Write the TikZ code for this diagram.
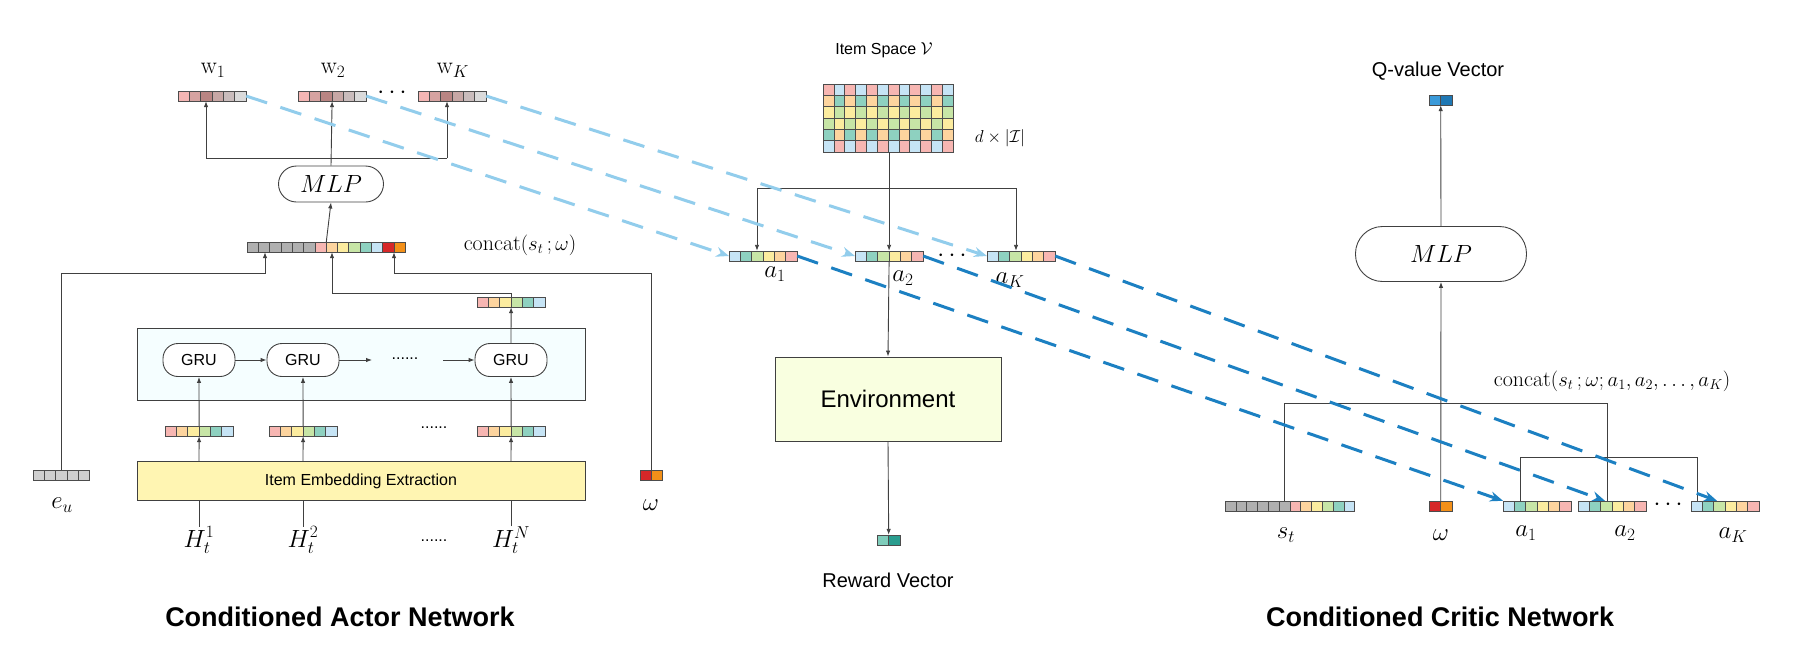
\documentclass[tikz,border=0pt]{standalone}
\usepackage{fontspec}
\newfontfamily\sansf{Liberation Sans}
\usetikzlibrary{arrows.meta,calc}
\definecolor{pk}{HTML}{F7B6B2}\definecolor{orl}{HTML}{FDD49E}\definecolor{ye}{HTML}{FCEC9F}
\definecolor{gr}{HTML}{C7E5A6}\definecolor{te}{HTML}{8ED1C0}\definecolor{bl}{HTML}{C6E4F5}
\definecolor{gy}{HTML}{B0B0B0}\definecolor{lgy}{HTML}{CFCFCF}\definecolor{rd}{HTML}{D62728}\definecolor{og}{HTML}{F39019}
\definecolor{wa}{HTML}{F4B6B4}\definecolor{wb}{HTML}{D6A3A1}\definecolor{wc}{HTML}{B98583}\definecolor{wd}{HTML}{C7A7A5}\definecolor{we}{HTML}{C9BCBC}\definecolor{wf}{HTML}{DADADA}
\definecolor{qa}{HTML}{3A9AD9}\definecolor{qb}{HTML}{1F78B4}\definecolor{ra}{HTML}{7FCDBB}\definecolor{rb}{HTML}{2A9D8F}
\definecolor{lblue}{HTML}{92CDEC}\definecolor{dblue}{HTML}{1C80C2}
\newcommand\cellvec[5]{%
  \foreach \c [count=\i] in {#5} {\fill[\c, draw=black!70, line width=0.6] ({#2+(\i-1)*#4}, #3-5) rectangle ++(#4,10); \xdef\ncells{\i}}
  \node[inner sep=0, minimum width={\ncells*#4pt}, minimum height=10pt, anchor=west] (#1) at (#2,#3) {};}
\begin{document}
\begin{tikzpicture}[x=1pt,y=-1pt,
  line/.style={draw=black!75, line width=0.9},
  arr/.style={line, -{Latex[length=6,width=4.5]}},
  lbd/.style={lblue, line width=3, dash pattern=on 22pt off 14pt, -{Stealth[length=13,width=10]}},
  dbd/.style={dblue, line width=3, dash pattern=on 22pt off 14pt, -{Stealth[length=13,width=10]}},
  lab/.style={font=\fontsize{24}{26}\selectfont, inner sep=0},
  sans/.style={font=\sansf\fontsize{#1}{#1}\selectfont, inner sep=0},
  gru/.style={draw=black!75, line width=0.9, fill=white, rounded corners=15, minimum width=72, minimum height=33, font=\sansf\fontsize{16}{16}\selectfont},
  title/.style={font=\sansf\bfseries\fontsize{27}{27}\selectfont}]
\useasboundingbox (0,0) rectangle (1815,651);
% ---------- Actor ----------
\cellvec{w1}{178}{96}{11.3}{wa,wb,wc,wd,we,wf}
\cellvec{w2}{298}{96}{11.3}{wa,wb,wc,wd,we,wf}
\cellvec{wK}{418}{96}{11.3}{wa,wb,wc,wd,we,wf}
\node[lab] (lw1) at (213,70) {$\mathrm{w}_1$};
\node[lab] (lw2) at (333,70) {$\mathrm{w}_2$};
\node[lab] (lwK) at (453,70) {$\mathrm{w}_K$};
\node[lab] (dw) at (392,93) {$\cdots$};
\node[draw=black!75, line width=0.9, rounded corners=18, minimum width=105, minimum height=36, font=\fontsize{24}{24}\selectfont] (mlp) at (331,184) {$MLP$};
\coordinate (m1) at (206,158); \coordinate (m3) at (447,158);
\draw[line] (m1) -- (m3);
\draw[arr] (m1) -- (m1|-w1.south);
\draw[arr] (m3) -- (m3|-wK.south);
\draw[arr] (mlp.north) -- (w2.south);
\cellvec{cs}{247}{247}{11.3}{gy,gy,gy,gy,gy,gy,pk,orl,ye,gr,te,bl,rd,og}
\node[font=\fontsize{22}{22}\selectfont, inner sep=0] (csl) at (520,245) {$\mathrm{concat}(s_t\,;\omega)$};
\draw[arr] (cs.north) -- (mlp.south);
\node[draw=black!75, line width=0.9, fill=blue!5!cyan!4, minimum width=448, minimum height=72, inner sep=0] (grubox) at (361,364) {};
\node[gru] (g1) at (199,360) {GRU};
\node[gru] (g2) at (303,360) {GRU};
\node[gru] (g3) at (511,360) {GRU};
\node[sans=16] (gd) at (405,359) {......};
\coordinate (ga) at (372,360); \coordinate (gb) at (443,360);
\draw[arr] (g1.east) -- (g2.west);
\draw[arr] (g2.east) -- (ga);
\draw[arr] (gb) -- (g3.west);
\cellvec{hv}{477}{302}{11.3}{pk,orl,ye,gr,te,bl}
\draw[arr] (g3.north) -- (hv.south);
\coordinate (b3) at (332,293);
\draw[arr] (hv.north) |- (b3) -- (b3|-cs.south);
\node[draw=black!75, line width=0.9, fill=orange!25!yellow!30, minimum width=448, minimum height=39, sans=16] (iee) at (361,481) {Item Embedding Extraction};
\cellvec{e1}{165}{431}{11.3}{pk,orl,ye,gr,te,bl}
\cellvec{e2}{269}{431}{11.3}{pk,orl,ye,gr,te,bl}
\cellvec{eN}{477}{431}{11.3}{pk,orl,ye,gr,te,bl}
\node[sans=16] (ed) at (434,428) {......};
\node[lab] (h1) at (199,540) {$H_t^1$};
\node[lab] (h2) at (303,540) {$H_t^2$};
\node[lab] (hN) at (511,540) {$H_t^N$};
\node[sans=16] (hd) at (434,541) {......};
\foreach \h/\e/\g in {h1/e1/g1,h2/e2/g2,hN/eN/g3}{
  \draw[line] (\h.north) -- (\h.north|-iee.south);
  \draw[arr] (\h.north|-iee.north) -- (\e.south);
  \draw[arr] (\e.north) -- (\g.south);}
\cellvec{eu}{33}{475}{11.3}{lgy,lgy,lgy,lgy,lgy}
\node[lab] (leu) at (62,505) {$e_u$};
\coordinate (b1) at (265,273);
\draw[arr] (eu.north) |- (b1) -- (b1|-cs.south);
\cellvec{om}{640}{475}{11.3}{rd,og}
\node[lab] (lom) at (651,505) {$\omega$};
\coordinate (b2) at (394,273);
\draw[arr] (om.north) |- (b2) -- (b2|-cs.south);
\node[title] (t1) at (340,617) {Conditioned Actor Network};
% ---------- Middle ----------
\node[sans=16] (isl) at (884,50) {Item Space $\mathcal{V}$};
\foreach \cc in {0,...,11}{
  \pgfmathtruncatemacro\parity{mod(\cc,2)}
  \foreach \r/\ca/\cb in {0/pk/bl,1/orl/te,2/ye/gr,3/gr/ye,4/te/orl,5/bl/pk}{
    \ifnum\parity=0 \def\col{\ca}\else\def\col{\cb}\fi
    \fill[\col, draw=black!70, line width=0.6] ({823+\cc*10.83},{84+\r*11.33}) rectangle ++(10.83,11.33);}}
\node[inner sep=0, minimum width=130, minimum height=68, anchor=north west] (mat) at (823,84) {};
\node[font=\fontsize{18}{18}\selectfont, inner sep=0] (dI) at (1000,138) {$d\times|\mathcal{I}|$};
\cellvec{a1}{729}{256}{11.3}{bl,te,gr,ye,orl,pk}
\cellvec{a2}{855}{256}{11.3}{bl,te,gr,ye,orl,pk}
\cellvec{aK}{987}{256}{11.3}{bl,te,gr,ye,orl,pk}
\node[lab] (la1) at (775,274) {$a_1$};
\node[lab] (la2) at (903,278) {$a_2$};
\node[lab] (laK) at (1010,280) {$a_K$};
\node[lab] (ad) at (952,256) {$\cdots$};
\coordinate (mb1) at (757,188); \coordinate (mb2) at (1016,188);
\draw[line] (mb1) -- (mb2);
\draw[arr] (mb1) -- (mb1|-a1.north);
\draw[arr] (mb2) -- (mb2|-aK.north);
\draw[arr] (mat.south-|a2.north) -- (a2.north);
\node[draw=black!75, line width=0.9, fill=green!20!yellow!12, minimum width=226, minimum height=84, sans=24] (env) at (888,399) {Environment};
\draw[arr] (a2.south) -- (env.north);
\cellvec{rw}{877}{540}{11.5}{ra,rb}
\draw[arr] (env.south) -- (rw.north);
\node[sans=20] (rwl) at (888,580) {Reward Vector};
% ---------- Critic ----------
\node[sans=20] (ql) at (1438,71) {Q-value Vector};
\cellvec{q}{1429}{100}{11.5}{qa,qb}
\node[draw=black!75, line width=0.9, rounded corners=27, minimum width=171, minimum height=55, font=\fontsize{34}{34}\selectfont] (cmlp) at (1441,254) {$MLP$};
\draw[arr] (cmlp.north) -- (q.south);
\cellvec{cst}{1225}{506}{10.8}{gy,gy,gy,gy,gy,gy,pk,orl,ye,gr,te,bl}
\cellvec{com}{1429}{506}{11.5}{rd,og}
\cellvec{ca1}{1503}{506}{11.3}{bl,te,gr,ye,orl,pk}
\cellvec{ca2}{1578}{506}{11.3}{bl,te,gr,ye,orl,pk}
\cellvec{caK}{1691}{506}{11.3}{bl,te,gr,ye,orl,pk}
\node[lab] (lcst) at (1286,535) {$s_t$};
\node[lab] (lcom) at (1441,535) {$\omega$};
\node[lab] (lca1) at (1526,533) {$a_1$};
\node[lab] (lca2) at (1625,533) {$a_2$};
\node[lab] (lcaK) at (1733,535) {$a_K$};
\node[lab] (cd) at (1668,505) {$\cdots$};
\draw[arr] (com.north) -- (cmlp.south);
\coordinate (cb1) at (1284,403); \coordinate (cb2) at (1607,403);
\draw[line] (cb1|-cst.north) -- (cb1) -- (cb2) -- (cb2|-ca2.north);
\coordinate (cc1) at (1520,457); \coordinate (cc2) at (1697,457);
\draw[line] (cc1|-ca1.north) -- (cc1) -- (cc2) -- (cc2|-caK.north);
\node[font=\fontsize{22}{22}\selectfont, inner sep=0] (ccl) at (1612,381) {$\mathrm{concat}(s_t\,;\omega;a_1,a_2,\ldots,a_K)$};
\node[title] (t2) at (1440,617) {Conditioned Critic Network};
% ---------- dashed ----------
\draw[lbd] (w1.east) -- (a1.west);
\draw[lbd] (w2.east) -- (a2.west);
\draw[lbd] (wK.east) -- (aK.west);
\draw[dbd] (a1.east) -- (ca1.north west);
\draw[dbd] (a2.east) -- ($(ca2.north west)+(27,0)$);
\draw[dbd] (aK.east) -- ($(caK.north west)+(26,0)$);
\end{tikzpicture}
\end{document}
